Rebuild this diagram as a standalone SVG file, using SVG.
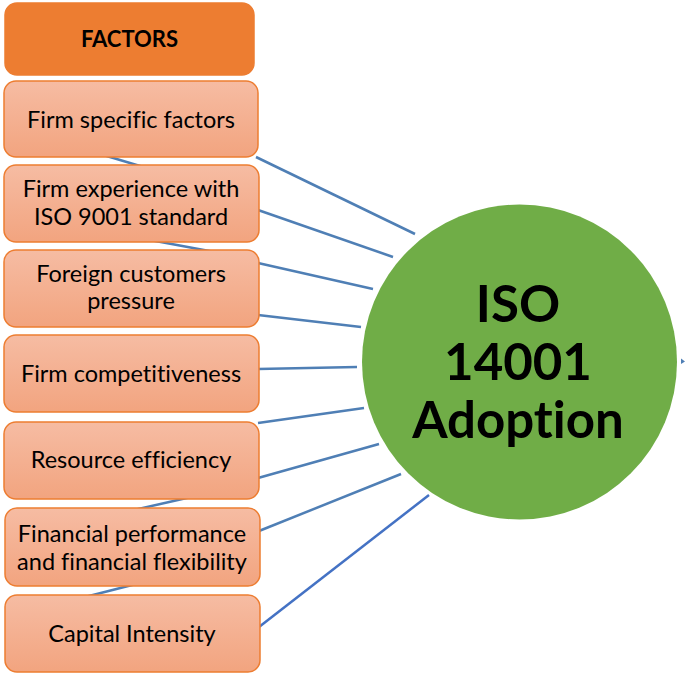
<svg xmlns="http://www.w3.org/2000/svg" width="685" height="675" viewBox="0 0 685 675">
<defs>
<linearGradient id="boxfill" x1="0" y1="0" x2="0" y2="1">
<stop offset="0" stop-color="#F6BCA3"/>
<stop offset="1" stop-color="#F2A47F"/>
</linearGradient>
</defs>
<style>
text{font-variant-ligatures:none;font-feature-settings:"liga" 0,"dlig" 0}
.box{fill:url(#boxfill);stroke:#ED7D31;stroke-width:1.5}
.hdr{fill:#ED7D31;stroke:#ED7D31;stroke-width:1.5}
.t{font-family:Lato,"Open Sans","Liberation Sans",sans-serif;font-size:23.5px;fill:#000;text-anchor:middle}
.h{font-family:Lato,"Open Sans","Liberation Sans",sans-serif;font-size:22px;font-weight:bold;fill:#000;text-anchor:middle}
.c{font-family:Lato,"Open Sans","Liberation Sans",sans-serif;font-size:51px;font-weight:bold;fill:#000;text-anchor:middle}
.ln{stroke:#4F7FB5;stroke-width:2.5;fill:none}
.ln2{stroke:#4472C4;stroke-width:2.5;fill:none}
</style>
<rect width="685" height="675" fill="#fff"/>
<g id="connectors">
<line class="ln" x1="95" y1="152.5" x2="145" y2="167.5"/>
<line class="ln" x1="150" y1="240" x2="220" y2="253"/>
<line class="ln" x1="125" y1="512" x2="200" y2="495"/>
<line class="ln" x1="85" y1="597" x2="140" y2="583"/>
<line class="ln" x1="256" y1="157" x2="415" y2="234"/>
<line class="ln" x1="258" y1="210" x2="393" y2="257"/>
<line class="ln" x1="258" y1="263" x2="373" y2="289"/>
<line class="ln" x1="258" y1="315" x2="361" y2="327"/>
<line class="ln" x1="258" y1="369" x2="357" y2="367"/>
<line class="ln" x1="258" y1="423" x2="364" y2="408"/>
<line class="ln" x1="258" y1="478" x2="379" y2="444"/>
<line class="ln" x1="259" y1="531" x2="401" y2="474"/>
<line class="ln2" x1="259" y1="627" x2="429" y2="495"/>
<polygon points="681,358.5 685,361.5 681,364" fill="#4F7FB5"/>
</g>
<g id="header">
<rect class="hdr" x="5" y="3" width="249" height="72" rx="12"/>
<text class="h" x="129.5" y="47">FACTORS</text>
</g>
<g id="n1">
<rect class="box" x="4" y="81" width="254" height="76" rx="12"/>
<text class="t" x="131" y="128">Firm specific factors</text>
</g>
<g id="n2">
<rect class="box" x="4" y="165" width="255" height="77" rx="12"/>
<text class="t" x="131" y="197">Firm experience with</text>
<text class="t" x="131" y="225">ISO 9001 standard</text>
</g>
<g id="n3">
<rect class="box" x="4" y="250" width="255" height="77" rx="12"/>
<text class="t" x="131" y="282">Foreign customers</text>
<text class="t" x="131" y="309">pressure</text>
</g>
<g id="n4">
<rect class="box" x="4" y="335" width="255" height="77" rx="12"/>
<text class="t" x="131" y="382">Firm competitiveness</text>
</g>
<g id="n5">
<rect class="box" x="4" y="422" width="255" height="77" rx="12"/>
<text class="t" x="131" y="468">Resource efficiency</text>
</g>
<g id="n6">
<rect class="box" x="5" y="508" width="255" height="78" rx="12"/>
<text class="t" x="132" y="542">Financial performance</text>
<text class="t" x="132" y="570">and financial flexibility</text>
</g>
<g id="n7">
<rect class="box" x="5" y="595" width="255" height="77" rx="12"/>
<text class="t" x="132" y="642">Capital Intensity</text>
</g>
<g id="center">
<circle cx="519.5" cy="362" r="157.5" fill="#70AD47"/>
<text class="c" x="518" y="322">ISO</text>
<text class="c" x="518" y="380">14001</text>
<text class="c" x="518" y="438">Adoption</text>
</g>
</svg>
